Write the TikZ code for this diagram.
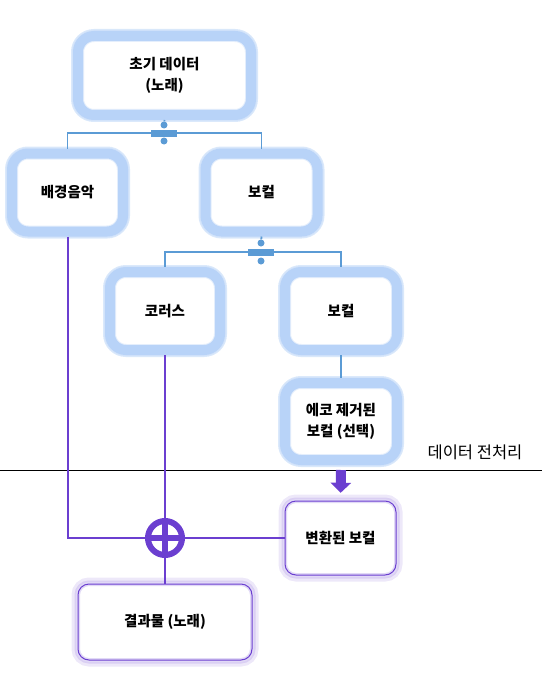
\documentclass[tikz,border=0pt]{standalone}
\usepackage{fontspec}
\setmainfont{Noto Sans CJK KR}
\usetikzlibrary{arrows.meta}
\usepackage{xcolor}

\definecolor{glowblue}{HTML}{A6C8F6}
\definecolor{lineblue}{HTML}{5B9BD5}
\definecolor{purp}{HTML}{6B3FD0}

\begin{document}
\begin{tikzpicture}[x=1pt,y=-1pt,
	bluebox/.style={rectangle,rounded corners=16pt,draw=glowblue,line width=10pt,fill=white,minimum width=112pt,minimum height=78pt,align=center,font=\fontsize{14.5}{21}\selectfont\bfseries,preaction={draw=glowblue!40,line width=14pt},postaction={draw=glowblue!60,line width=12pt,draw opacity=0.5}},
	purbox/.style={rectangle,rounded corners=11pt,draw=none,fill=white,minimum width=111pt,minimum height=74pt,align=center,font=\fontsize{14.5}{21}\selectfont\bfseries,preaction={draw=purp!12,line width=13pt},preaction={draw=purp!25,line width=7pt},postaction={draw=purp!20,line width=4pt},postaction={draw=purp,line width=1pt}},
	dot/.style={circle,fill=lineblue,inner sep=0pt,minimum size=7pt},
	bar/.style={rectangle,fill=lineblue,inner sep=0pt,minimum width=26pt,minimum height=7pt},
	bline/.style={draw=lineblue,line width=1.8pt},
	pline/.style={draw=purp,line width=2pt},
	fatarrow/.style={draw=purp,line width=10pt,-{Triangle[width=20pt,length=10pt]},shorten >=8pt}]
		\useasboundingbox (0,0) rectangle (542,698);
		% pre-processing part
		\node (init)[bluebox,minimum width=173pt,minimum height=79pt] at (164.5,75.5) {초기 데이터\\(노래)};
		\node (bgm)[bluebox,minimum width=111pt] at (67.5,192.5) {배경음악};
		\node (voc)[bluebox] at (261.5,192.5) {보컬};
		\node (chorus)[bluebox,minimum width=110pt] at (165,311) {코러스};
		\node (voc2)[bluebox] at (341,311) {보컬};
		\node (echo)[bluebox,minimum height=77pt] at (341,421.5) {에코 제거된\\보컬 (선택)};
		% first split
		\node (d1)[dot] at (164,125) {};
		\node (split1)[bar] at (164,133) {};
		\node (d2)[dot] at (164,141) {};
		\draw[bline] (init.south) -- (d1);
		\draw[bline] (split1) -| (bgm.north) (split1) -| (voc.north);
		% second split
		\node (d3)[dot] at (261,243) {};
		\node (split2)[bar] at (261,252) {};
		\node (d4)[dot] at (261,261) {};
		\draw[bline] (voc.south) -- (d3);
		\draw[bline] (split2) -| (chorus.north) (split2) -| (voc2.north);
		\draw[bline] (voc2.south) -- (echo.north);
		% border line
		\draw[black,line width=1pt] (0,470) -- (542,470);
		\node (lbl) at (475,452) {\fontsize{16.5}{20}\selectfont 데이터 전처리};
		% mixing part
		\coordinate (cut) at (341,470);
		\node (conv)[purbox] at (340.5,538) {변환된 보컬};
		\node (result)[purbox,minimum width=174pt,minimum height=76pt] at (165,622) {결과물 (노래)};
		\node (plus)[circle,draw=purp,line width=6pt,fill=white,inner sep=0pt,minimum size=34pt] at (165,538) {};
		\draw[purp,line width=6pt] (plus.north) -- (plus.south) (plus.west) -- (plus.east);
		\draw[fatarrow] (cut) -- (conv.north);
		\draw[pline] (bgm.south) |- (plus.west);
		\draw[pline] (chorus.south) -- (plus.north);
		\draw[pline] (conv.west) -- (plus.east);
		\draw[pline] (plus.south) -- (result.north);
\end{tikzpicture}
\end{document}
